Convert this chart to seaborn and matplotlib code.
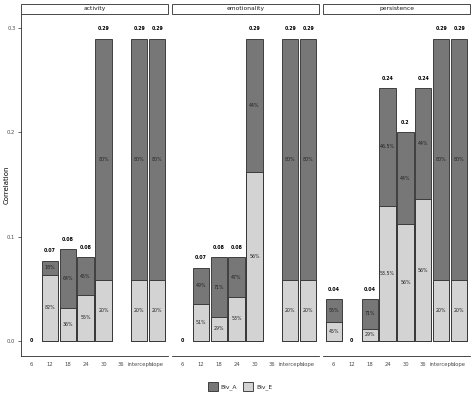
import numpy as np
import pandas as pd
import matplotlib
matplotlib.use("Agg")
import matplotlib.pyplot as plt
from matplotlib.patches import Patch, Rectangle
import seaborn as sns

sns.set_style("white")
plt.rcParams['font.family'] = ['DejaVu Sans']

nan = np.nan
categories = ['6', '12', '18', '24', '30', '36', 'intercept', 'slope']
panels = ['activity', 'emotionality', 'persistence']

activity_total = [0.0, 0.077, 0.088, 0.080, 0.29, nan, 0.29, 0.29]
activity_labels = ['0', '0.07', '0.08', '0.08', '0.29', '', '0.29', '0.29']
activity_pct_A = [nan, 18, 64, 45, 80, nan, 80, 80]
activity_pct_E = [nan, 82, 36, 55, 20, nan, 20, 20]

emotionality_total = [0.0, 0.070, 0.080, 0.080, 0.29, nan, 0.29, 0.29]
emotionality_labels = ['0', '0.07', '0.08', '0.08', '0.29', '', '0.29', '0.29']
emotionality_pct_A = [nan, 49, 71, 47, 44, nan, 80, 80]
emotionality_pct_E = [nan, 51, 29, 53, 56, nan, 20, 20]

persistence_total = [0.040, 0.0, 0.040, 0.2425, 0.20, 0.2425, 0.29, 0.29]
persistence_labels = ['0.04', '0', '0.04', '0.24', '0.2', '0.24', '0.29', '0.29']
persistence_pct_A = [55, nan, 71, 46.5, 44, 44, 80, 80]
persistence_pct_E = [45, nan, 29, 53.5, 56, 56, 20, 20]

series_names = ['Biv_A', 'Biv_E']

data = {
    'activity': (activity_total, activity_labels, activity_pct_A, activity_pct_E),
    'emotionality': (emotionality_total, emotionality_labels, emotionality_pct_A, emotionality_pct_E),
    'persistence': (persistence_total, persistence_labels, persistence_pct_A, persistence_pct_E),
}

col_A = '#777777'
col_E = '#d3d3d3'
edge = '#2b2b2b'
W, H = 474, 398
fig = plt.figure(figsize=(W / 100, H / 100), dpi=100)

lefts = [21, 172, 323]
pw = 147
ptop, pbot = 14, 356
ymin, ymax = -0.0145, 0.3135

for i, name in enumerate(panels):
    total, labels, pa, pe = data[name]
    df = pd.DataFrame({'cat': categories, 'total': total, 'pa': pa, 'pe': pe, 'lab': labels})
    df['E'] = df['total'] * df['pe'] / 100.0
    draw = df[df['total'] > 0]
    ax = fig.add_axes([lefts[i] / W, 1 - pbot / H, pw / W, (pbot - ptop) / H])
    sns.barplot(data=draw, x='cat', y='total', order=categories, color=col_A,
                saturation=1, width=0.9, edgecolor=edge, linewidth=0.6,
                errorbar=None, ax=ax)
    sns.barplot(data=draw, x='cat', y='E', order=categories, color=col_E,
                saturation=1, width=0.9, edgecolor=edge, linewidth=0.6,
                errorbar=None, ax=ax)
    for j, row in df.iterrows():
        if row['lab'] != '':
            ty = row['total'] + 0.0095 if row['total'] > 0 else 0.0
            ax.text(j, ty, row['lab'], ha='center', va='center', fontsize=3.4,
                    fontweight='bold', color='black')
        if not np.isnan(row['pe']):
            e = row['E']
            ax.text(j, e / 2, f"{row['pe']:g}%", ha='center', va='center',
                    fontsize=3.4, color='#222222')
            ax.text(j, e + (row['total'] - e) / 2, f"{row['pa']:g}%", ha='center',
                    va='center', fontsize=3.4, color='#222222')
    ax.set_xlim(-0.6, 7.6)
    ax.set_ylim(ymin, ymax)
    ax.set_xlabel('')
    ax.set_ylabel('')
    ax.set_yticks([0.0, 0.1, 0.2, 0.3])
    for s in ['top', 'right']:
        ax.spines[s].set_visible(False)
    ax.spines['bottom'].set_color(edge)
    ax.spines['bottom'].set_linewidth(0.6)
    ax.tick_params(axis='x', length=2, width=0.5, color=edge, labelsize=3.8,
                   labelcolor='#4d4d4d', pad=2)
    if i == 0:
        ax.spines['left'].set_color(edge)
        ax.spines['left'].set_linewidth(0.6)
        ax.set_yticklabels(['0.0', '0.1', '0.2', '0.3'])
        ax.tick_params(axis='y', length=2, width=0.5, color=edge, labelsize=3.8,
                       labelcolor='#4d4d4d', pad=2, left=True)
    else:
        ax.spines['left'].set_visible(False)
        ax.set_yticks([])
    # strip
    sax = fig.add_axes([lefts[i] / W, 1 - 13.5 / H, pw / W, 10 / H])
    sax.set_xlim(0, 1)
    sax.set_ylim(0, 1)
    sax.axis('off')
    sax.add_patch(Rectangle((0, 0), 1, 1, facecolor='white', edgecolor=edge,
                            linewidth=0.6, transform=sax.transAxes, clip_on=False))
    sax.text(0.5, 0.5, name, ha='center', va='center', fontsize=4.3, color='#1a1a1a')

fig.text(6.5 / W, 1 - ((ptop + pbot) / 2) / H, 'Correlation', rotation=90,
         ha='center', va='center', fontsize=5, color='black')

handles = [Patch(facecolor=col_A, edgecolor=edge, linewidth=0.6, label=series_names[0]),
           Patch(facecolor=col_E, edgecolor=edge, linewidth=0.6, label=series_names[1])]
fig.legend(handles=handles, loc='center', bbox_to_anchor=(240 / W, 1 - 386.5 / H),
           ncol=2, frameon=False, fontsize=4.3, handlelength=1.7, handleheight=1.7,
           handletextpad=0.5, columnspacing=1.0, borderaxespad=0)

fig.savefig('out.png', dpi=100)
